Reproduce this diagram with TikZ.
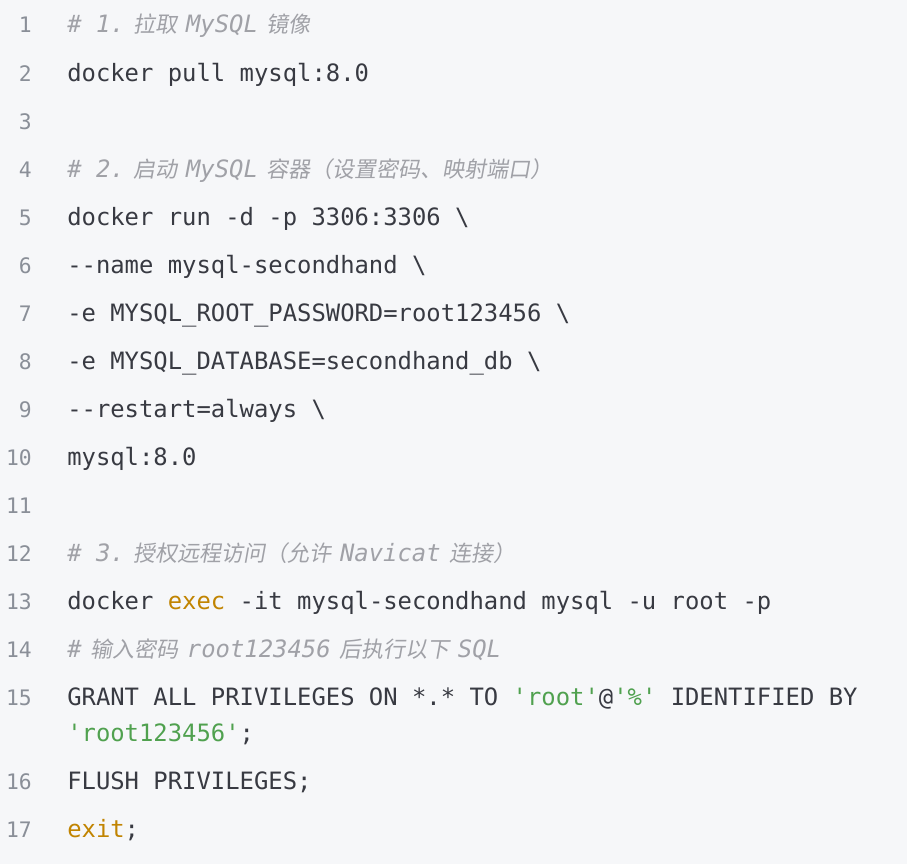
\documentclass[tikz,border=0pt]{standalone}
\usepackage{fontspec}
\setmonofont{DejaVu Sans Mono}
\newfontfamily\cjk[FakeSlant=0.18]{Noto Sans CJK SC}
\definecolor{bg}{HTML}{F6F7F9}
\definecolor{fg}{HTML}{383A42}
\definecolor{cm}{HTML}{A0A1A7}
\definecolor{kw}{HTML}{C18401}
\definecolor{st}{HTML}{50A14F}
\definecolor{ln}{HTML}{8A8F98}
\newcommand{\cj}[1]{{\cjk\fontsize{16.5pt}{18pt}\selectfont #1}}
\newcommand{\q}{\char"27}
\newcommand{\hs}{\hspace{6.5pt}}
\begin{document}
\begin{tikzpicture}[x=0.75pt,y=-0.75pt,
  code/.style={anchor=base west,inner sep=0pt,font=\ttfamily\fontsize{17.9pt}{20pt}\selectfont,text=fg},
  cmt/.style={code,text=cm,font=\ttfamily\itshape\fontsize{17.9pt}{20pt}\selectfont},
  num/.style={anchor=base east,inner sep=0pt,font=\ttfamily\fontsize{16pt}{20pt}\selectfont,text=ln}]
\fill[bg] (0,0) rectangle (907,864);
\foreach \n/\y in {1/24,2/73,3/121,4/169,5/217,6/265,7/313,8/361,9/409,10/457,11/505,12/553,13/601,14/649,15/697,16/781,17/829}
  \node[num] (n\n) at (32,\y+8) {\n};
\node[cmt] (l1) at (67,32) {\# 1.\hs\cj{拉取}\hs MySQL\hs\cj{镜像}};
\node[code] (l2) at (67,81) {docker pull mysql:8.0};
\node[cmt] (l4) at (67,177) {\# 2.\hs\cj{启动}\hs MySQL\hs\cj{容器（设置密码、映射端口）}};
\node[code] (l5) at (67,225) {docker run -d -p 3306:3306 \textbackslash};
\node[code] (l6) at (67,273) {--name mysql-secondhand \textbackslash};
\node[code] (l7) at (67,321) {-e MYSQL\_ROOT\_PASSWORD=root123456 \textbackslash};
\node[code] (l8) at (67,369) {-e MYSQL\_DATABASE=secondhand\_db \textbackslash};
\node[code] (l9) at (67,417) {--restart=always \textbackslash};
\node[code] (l10) at (67,465) {mysql:8.0};
\node[cmt] (l12) at (67,561) {\# 3.\hs\cj{授权远程访问（允许}\hs Navicat\hs\cj{连接）}};
\node[code] (l13) at (67,609) {docker \textcolor{kw}{exec} -it mysql-secondhand mysql -u root -p};
\node[cmt] (l14) at (67,657) {\#\hs\cj{输入密码}\hs root123456\hs\cj{后执行以下}\hs SQL};
\node[code] (l15) at (67,705) {GRANT ALL PRIVILEGES ON *.* TO \textcolor{st}{\q root\q}@\textcolor{st}{\q\%\q} IDENTIFIED BY};
\node[code] (l15b) at (67,741) {\textcolor{st}{\q root123456\q};};
\node[code] (l16) at (67,789) {FLUSH PRIVILEGES;};
\node[code] (l17) at (67,837) {\textcolor{kw}{exit};};
\end{tikzpicture}
\end{document}
